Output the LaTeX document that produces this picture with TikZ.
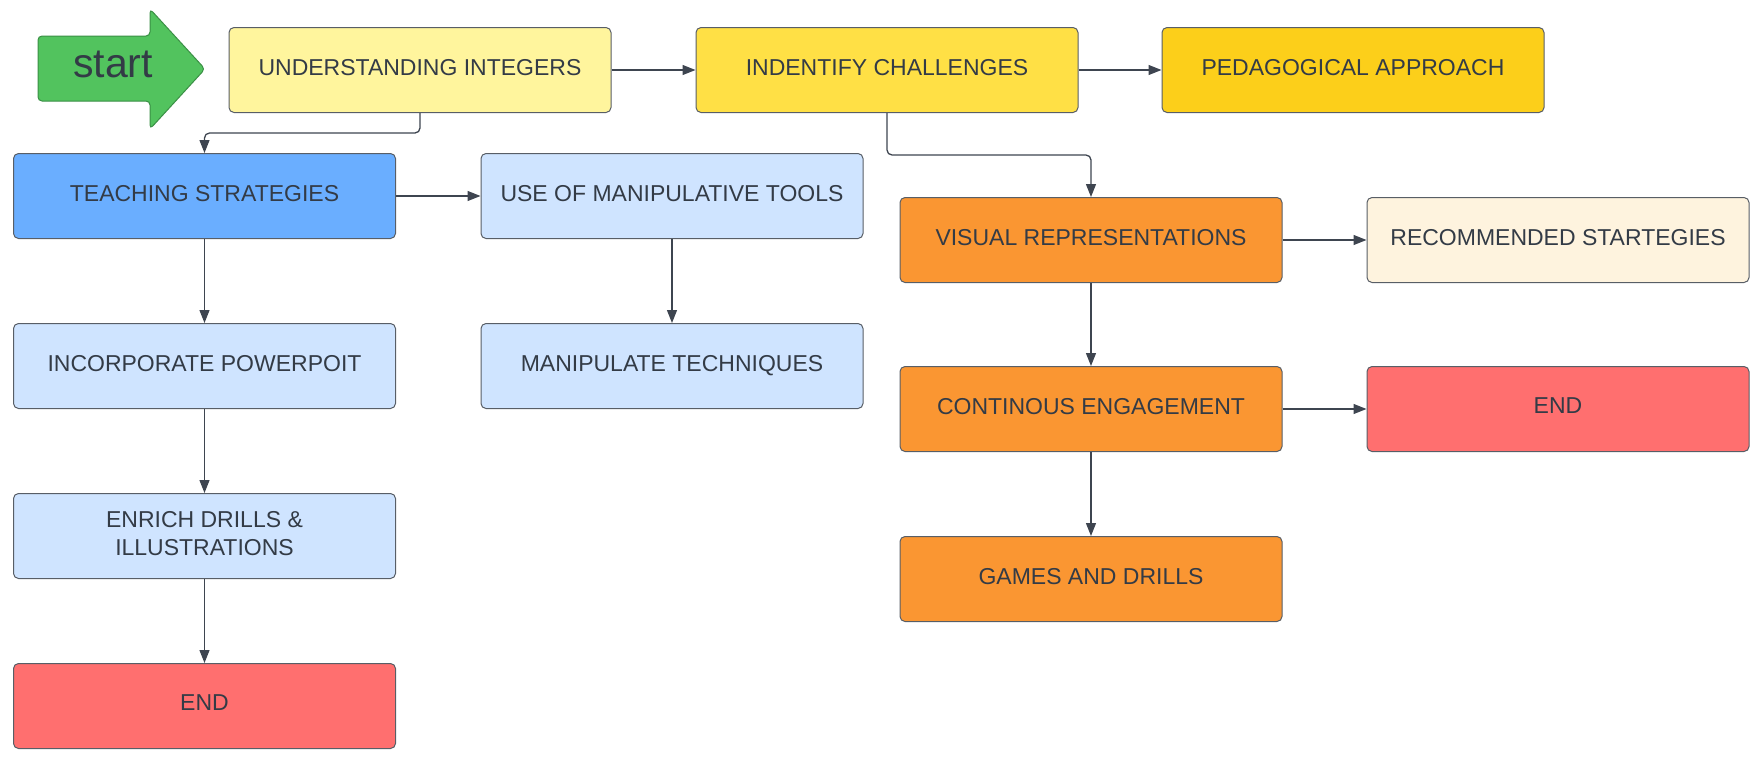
\documentclass[tikz,border=0pt]{standalone}
\usepackage{fontspec}
\setmainfont{Liberation Sans}
\usetikzlibrary{arrows.meta}
\definecolor{txt}{HTML}{333B46}
\definecolor{ln}{HTML}{3E4550}
\definecolor{bd}{HTML}{585E66}
\definecolor{cgreen}{HTML}{52C35E}
\definecolor{cgreenbd}{HTML}{3A8F45}
\definecolor{cltyel}{HTML}{FFF59D}
\definecolor{cyel}{HTML}{FFE045}
\definecolor{cgold}{HTML}{FCCF1A}
\definecolor{cblue}{HTML}{6AAEFF}
\definecolor{cltblue}{HTML}{CFE4FF}
\definecolor{cred}{HTML}{FF6F6F}
\definecolor{corange}{HTML}{FA9632}
\definecolor{ccream}{HTML}{FEF3DE}
\tikzset{
  box/.style={draw=bd, line width=1pt, rounded corners=5pt, minimum width=382pt, minimum height=85pt,
    align=center, text=txt, font=\fontsize{23}{28}\selectfont, inner sep=0pt, text depth=6pt},
  arr/.style={draw=ln, line width=1.3pt, -{Triangle[length=13pt,width=10pt]}}
}
\begin{document}
\begin{tikzpicture}[x=1pt,y=-1pt]
\useasboundingbox (0,0) rectangle (1751,758);
% start arrow
\path[fill=cgreen, draw=cgreenbd, line width=1pt, rounded corners=4pt]
  (38,36) -- (150,36) -- (150,9) -- (205,69) -- (150,129) -- (150,101) -- (38,101) -- cycle;
\node[text=txt, font=\fontsize{41}{48}\selectfont, inner sep=0pt] (start) at (113,64) {start};
% boxes
\node[box, fill=cltyel] (ui) at (420,70) {UNDERSTANDING INTEGERS};
\node[box, fill=cyel] (ic) at (887,70) {INDENTIFY CHALLENGES};
\node[box, fill=cgold] (pa) at (1353,70) {PEDAGOGICAL APPROACH};
\node[box, fill=cblue] (ts) at (204.5,196) {TEACHING STRATEGIES};
\node[box, fill=cltblue] (use) at (672,196) {USE OF MANIPULATIVE TOOLS};
\node[box, fill=cltblue] (inc) at (204.5,366) {INCORPORATE POWERPOIT};
\node[box, fill=cltblue] (mt) at (672,366) {MANIPULATE TECHNIQUES};
\node[box, fill=cltblue] (enr) at (204.5,536) {ENRICH DRILLS \&\\ILLUSTRATIONS};
\node[box, fill=cred] (endl) at (204.5,706) {END};
\node[box, fill=corange] (vr) at (1091,240) {VISUAL REPRESENTATIONS};
\node[box, fill=ccream] (rs) at (1558,240) {RECOMMENDED STARTEGIES};
\node[box, fill=corange] (ce) at (1091,409) {CONTINOUS ENGAGEMENT};
\node[box, fill=cred] (endr) at (1558,409) {END};
\node[box, fill=corange] (gd) at (1091,579) {GAMES AND DRILLS};
% connectors
\draw[arr] (ui) -- (ic);
\draw[arr] (ic) -- (pa);
\draw[arr, rounded corners=5pt] (ui.south) -- ++(0,20) -| (ts.north);
\draw[arr, rounded corners=5pt] (ic.south) -- ++(0,42) -| (vr.north);
\draw[arr] (ts) -- (use);
\draw[arr] (ts) -- (inc);
\draw[arr] (inc) -- (enr);
\draw[arr] (enr) -- (endl);
\draw[arr] (use) -- (mt);
\draw[arr] (vr) -- (rs);
\draw[arr] (vr) -- (ce);
\draw[arr] (ce) -- (endr);
\draw[arr] (ce) -- (gd);
\end{tikzpicture}
\end{document}
